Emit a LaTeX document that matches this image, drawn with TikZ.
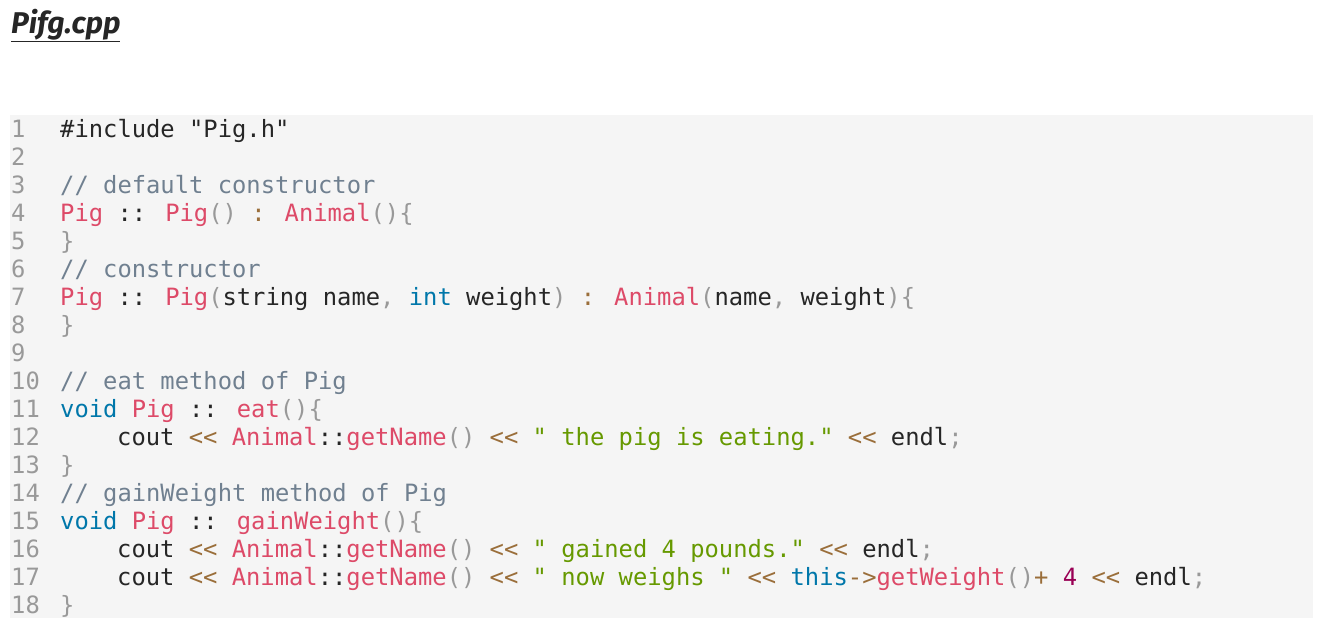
\documentclass[tikz,border=0pt]{standalone}
\usepackage{fontspec}
\newfontfamily\code{DejaVu Sans Mono}
\newfontfamily\ttl{Fira Sans}
\definecolor{kw}{HTML}{0077AA}
\definecolor{fn}{HTML}{DD4A68}
\definecolor{st}{HTML}{669900}
\definecolor{cm}{HTML}{708090}
\definecolor{op}{HTML}{9A6E3A}
\definecolor{pu}{HTML}{999999}
\definecolor{nu}{HTML}{990055}
\definecolor{bg}{HTML}{F5F5F5}
\newcommand\Kw[1]{\textcolor{kw}{#1}}
\newcommand\Fn[1]{\textcolor{fn}{#1}}
\newcommand\St[1]{\textcolor{st}{#1}}
\newcommand\Cm[1]{\textcolor{cm}{#1}}
\newcommand\Op[1]{\textcolor{op}{#1}}
\newcommand\Pu[1]{\textcolor{pu}{#1}}
\newcommand\Nu[1]{\textcolor{nu}{#1}}
\begin{document}
\begin{tikzpicture}[x=1pt,y=-1pt,
  src/.style={anchor=base west,inner sep=0pt,font=\code\fontsize{23.8}{24}\selectfont,text=black!85},
  lno/.style={anchor=base west,inner sep=0pt,font=\code\fontsize{23.8}{24}\selectfont,text=pu}]
\useasboundingbox (0,0) rectangle (1318,625);
\fill[bg] (10,115) rectangle (1313,618);
\node[anchor=base west,inner sep=0pt,font=\ttl\bfseries\itshape\fontsize{30}{32}\selectfont,text=black!85] (title) at (11,33) {\underline{Pifg.cpp}};
\foreach \n in {1,...,18}{\node[lno] (n\n) at (11,{137+28*(\n-1)}) {\n};}
\def\y#1{{137+28*(#1-1)}}
\node[src] (l1) at (60,\y{1}) {\#include "Pig.h"};
\node[src] (l3) at (60,\y{3}) {\Cm{// default constructor}};
\node[src] (l4) at (60,\y{4}) {\Fn{Pig} :: \Fn{Pig}\Pu{()} \Op{:} \Fn{Animal}\Pu{()\{}};
\node[src] (l5) at (60,\y{5}) {\Pu{\}}};
\node[src] (l6) at (60,\y{6}) {\Cm{// constructor}};
\node[src] (l7) at (60,\y{7}) {\Fn{Pig} :: \Fn{Pig}\Pu{(}string name\Pu{,} \Kw{int} weight\Pu{)} \Op{:} \Fn{Animal}\Pu{(}name\Pu{,} weight\Pu{)\{}};
\node[src] (l8) at (60,\y{8}) {\Pu{\}}};
\node[src] (l10) at (60,\y{10}) {\Cm{// eat method of Pig}};
\node[src] (l11) at (60,\y{11}) {\Kw{void} \Fn{Pig} :: \Fn{eat}\Pu{()\{}};
\node[src] (l12) at (117,\y{12}) {cout \Op{<<} \Fn{Animal}::\Fn{getName}\Pu{()} \Op{<<} \St{" the pig is eating."} \Op{<<} endl\Pu{;}};
\node[src] (l13) at (60,\y{13}) {\Pu{\}}};
\node[src] (l14) at (60,\y{14}) {\Cm{// gainWeight method of Pig}};
\node[src] (l15) at (60,\y{15}) {\Kw{void} \Fn{Pig} :: \Fn{gainWeight}\Pu{()\{}};
\node[src] (l16) at (117,\y{16}) {cout \Op{<<} \Fn{Animal}::\Fn{getName}\Pu{()} \Op{<<} \St{" gained 4 pounds."} \Op{<<} endl\Pu{;}};
\node[src] (l17) at (117,\y{17}) {cout \Op{<<} \Fn{Animal}::\Fn{getName}\Pu{()} \Op{<<} \St{" now weighs "} \Op{<<} \Kw{this}\Op{->}\Fn{getWeight}\Pu{()}\Op{+} \Nu{4} \Op{<<} endl\Pu{;}};
\node[src] (l18) at (60,\y{18}) {\Pu{\}}};
\end{tikzpicture}
\end{document}
